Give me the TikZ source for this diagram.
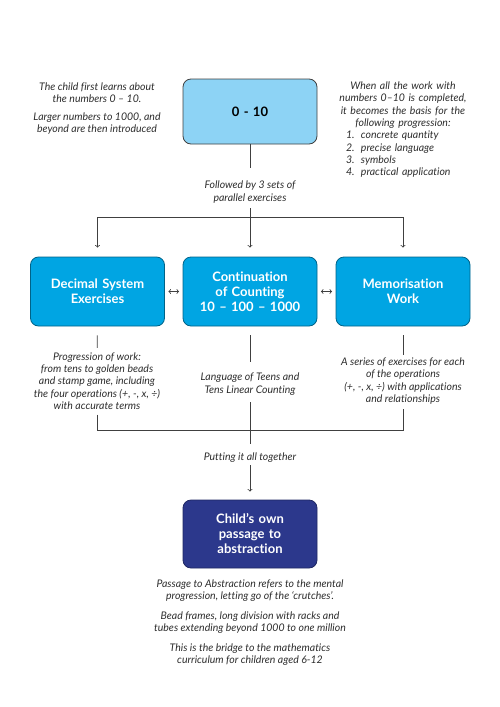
\documentclass[tikz,border=0pt]{standalone}
\usepackage{fontspec}
\setmainfont{Lato}[Ligatures=NoCommon]
\usetikzlibrary{shapes,arrows}
\definecolor{paleblue}{RGB}{141,211,245}
\definecolor{midblue}{RGB}{0,165,227}
\definecolor{navyblue}{RGB}{44,56,140}
\definecolor{linegrey}{RGB}{64,64,64}
\definecolor{textgrey}{RGB}{45,45,45}
\tikzstyle{block} = [rectangle, draw, thick, text=white, text width=118pt, inner sep=8pt,
    align=center, rounded corners=8pt, font=\fontsize{13}{15}\selectfont\bfseries]
\tikzstyle{note} = [align=center, text=textgrey, inner sep=0pt,
    font=\fontsize{10.5}{12.3}\selectfont\itshape]
\tikzstyle{line} = [draw, linegrey, line width=0.8pt]
\tikzstyle{arrow} = [line, ->]

\begin{document}
\begin{tikzpicture}[x=1pt,y=-1pt]
      \useasboundingbox (0,0) rectangle (500,707);
      \node[block, fill=paleblue, draw=linegrey, text=black, minimum height=65pt] (zeroten) at (250,111.5) {0 - 10};
      \node[note] (leftnote) at (97,108.6) {The child first learns about\\ the numbers 0 -- 10.\\[5.5pt] Larger numbers to 1000, and\\ beyond are then introduced};
      \node[note, align=left, text width=132pt] (rightnote) at (403,129.6) {{\centering When all the work with\\ numbers 0--10 is completed,\\ it becomes the basis for the\\ following progression:\par}
        \hspace*{9pt}\makebox[15pt][l]{1.}concrete quantity\\
        \hspace*{9pt}\makebox[15pt][l]{2.}precise language\\
        \hspace*{9pt}\makebox[15pt][l]{3.}symbols\\
        \hspace*{9pt}\makebox[15pt][l]{4.}practical application};
      \node[note] (follow) at (250,192) {Followed by 3 sets of\\ parallel exercises};
      \coordinate (split) at (250,217);

      \node[block, fill=midblue, draw=midblue!60!black, minimum height=69pt] (decimal) at (97.5,291.5) {Decimal System\\ Exercises};
      \node[block, fill=midblue, draw=midblue!60!black, minimum height=69pt] (counting) at (250,291.5) {Continuation\\ of Counting\\ 10 -- 100 -- 1000};
      \node[block, fill=midblue, draw=midblue!60!black, minimum height=69pt] (memo) at (403,291.5) {Memorisation\\ Work};

      \node[note] (decnote) at (97,381) {Progression of work:\\ from tens to golden beads\\ and stamp game, including\\ the four operations (+, -, x, ÷)\\ with accurate terms};
      \node[note] (countnote) at (250,384) {Language of Teens and\\ Tens Linear Counting};
      \node[note] (memonote) at (403,381) {A series of exercises for each\\ of the operations\\ (+, -, x, ÷) with applications\\ and relationships};
      \coordinate (join) at (250,430);
      \node[note] (together) at (250,458) {Putting it all together};

      \node[block, fill=navyblue, draw=navyblue!70!black, minimum height=68pt] (passage) at (250,534) {Child’s own\\ passage to\\ abstraction};
      \node[note] (endnote) at (250,622.6) {Passage to Abstraction refers to the mental\\ progression, letting go of the ‘crutches’.\\[7.4pt] Bead frames, long division with racks and\\ tubes extending beyond 1000 to one million\\[7.4pt] This is the bridge to the mathematics\\ curriculum for children aged 6-12};

      \draw[line, shorten >=12.5pt] (zeroten) -- (follow);
      \draw[line, shorten <=5pt] (follow) -- (split);
      \draw[line] (split -| decimal) -- (split -| memo);
      \draw[arrow, shorten >=9pt] (split) -| (decimal);
      \draw[arrow, shorten >=9pt] (split) -- (counting);
      \draw[arrow, shorten >=9pt] (split) -| (memo);
      \draw[line, <->, shorten <=3.5pt, shorten >=3.5pt] (decimal) -- (counting);
      \draw[line, <->, shorten <=3.5pt, shorten >=3.5pt] (counting) -- (memo);
      \draw[line, shorten <=9pt, shorten >=4.5pt] (decimal) -- (decnote);
      \draw[line, shorten <=9pt, shorten >=10.5pt] (counting) -- (countnote);
      \draw[line, shorten <=9pt, shorten >=2.5pt] (memo) -- (memonote);
      \draw[line, shorten <=5pt] (decnote.south) |- (join);
      \draw[line, shorten <=5pt] (memonote.south) |- (join);
      \draw[line, shorten <=7pt, shorten >=8.5pt] (countnote) -- (together);
      \draw[arrow, shorten <=2pt, shorten >=8pt] (together) -- (passage);
\end{tikzpicture}
\end{document}
